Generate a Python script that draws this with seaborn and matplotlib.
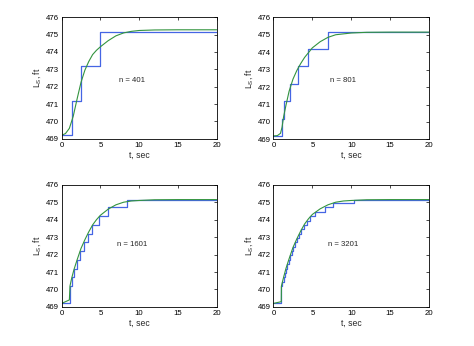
import numpy as np
import pandas as pd
import matplotlib
matplotlib.use("Agg")
import matplotlib.pyplot as plt
import seaborn as sns

# Grid sizes of the four runs
grid_sizes = [401, 801, 1601, 3201]

# Quantized (step) responses: switching times and the level held from each
step_t_401 = [0.0, 1.4, 2.45, 5.0]
step_L_401 = [469.2, 471.2, 473.2, 475.15]

step_t_801 = [0.0, 1.15, 1.3, 2.1, 3.15, 4.45, 6.95]
step_L_801 = [469.2, 470.2, 471.2, 472.2, 473.2, 474.2, 475.15]

step_t_1601 = [0.0, 1.03, 1.3, 1.6, 1.95, 2.35, 2.85, 3.4, 3.95, 4.8, 6.0, 8.45]
step_L_1601 = [469.2, 470.2, 470.7, 471.2, 471.7, 472.2, 472.7, 473.2, 473.7,
               474.2, 474.7, 475.15]

step_t_3201 = [0.0, 1.0, 1.15, 1.3, 1.45, 1.6, 1.78, 1.95, 2.15, 2.35, 2.57,
               2.8, 3.05, 3.3, 3.6, 3.95, 4.33, 4.75, 5.35, 6.6, 7.6, 10.3]
step_L_3201 = [469.2, 470.2, 470.45, 470.7, 470.95, 471.2, 471.45, 471.7,
               471.95, 472.2, 472.45, 472.7, 472.95, 473.2, 473.45, 473.7,
               473.95, 474.2, 474.45, 474.7, 474.95, 475.15]

# Continuous responses
cont_t_401 = [0, 0.5, 1.0, 1.5, 2.0, 2.5, 3.0, 3.5, 4.0, 4.5, 5.0, 6.0, 7.0,
              8.0, 9.0, 10, 12, 15, 20]
cont_L_401 = [469.2, 469.3, 469.6, 470.3, 471.3, 472.25, 472.95, 473.45,
              473.85, 474.1, 474.3, 474.65, 474.93, 475.1, 475.19, 475.24,
              475.27, 475.28, 475.28]

cont_t_801 = [0, 0.5, 0.9, 1.1, 1.3, 1.6, 2.0, 2.5, 3.0, 3.5, 4.0, 5.0, 6.0,
              7.0, 8.0, 10, 12, 15, 20]
cont_L_801 = [469.2, 469.22, 469.35, 469.7, 470.3, 470.95, 471.75, 472.45,
              472.95, 473.35, 473.7, 474.25, 474.6, 474.85, 475.0, 475.1,
              475.14, 475.15, 475.15]

cont_t_1601 = [0, 1.0, 1.08, 1.3, 1.6, 2.0, 2.5, 3.0, 3.5, 4.0, 4.5, 5.0,
               6.0, 7.0, 8.0, 9.0, 10, 12, 15, 20]
cont_L_1601 = [469.2, 469.4, 470.2, 470.65, 471.15, 471.7, 472.35, 472.85,
               473.3, 473.7, 474.0, 474.25, 474.6, 474.85, 475.0, 475.07,
               475.1, 475.14, 475.15, 475.15]

cont_t_3201 = [0, 1.0, 1.02, 1.3, 1.6, 2.0, 2.5, 3.0, 3.5, 4.0, 4.5, 5.0,
               6.0, 7.0, 8.0, 9.0, 10, 12, 15, 20]
cont_L_3201 = [469.2, 469.3, 470.2, 470.7, 471.2, 471.75, 472.4, 472.9,
               473.35, 473.75, 474.05, 474.3, 474.62, 474.85, 475.0, 475.07,
               475.1, 475.14, 475.15, 475.15]

T_END = 20.0

runs = [
    (step_t_401, step_L_401, cont_t_401, cont_L_401),
    (step_t_801, step_L_801, cont_t_801, cont_L_801),
    (step_t_1601, step_L_1601, cont_t_1601, cont_L_1601),
    (step_t_3201, step_L_3201, cont_t_3201, cont_L_3201),
]

# Label positions (t, L) for the "n = ..." annotations
label_pos = [(7.4, 472.38), (7.3, 472.4), (7.1, 472.55), (7.05, 472.55)]

sns.set_style("white")
plt.rcParams["font.family"] = ["Liberation Sans", "DejaVu Sans"]
plt.rcParams["mathtext.fontset"] = "custom"
plt.rcParams["mathtext.rm"] = "Liberation Sans"
plt.rcParams["mathtext.it"] = "Liberation Sans:italic"
plt.rcParams["mathtext.bf"] = "Liberation Sans:bold"

STEP_COLOR = "#4565e4"
CONT_COLOR = "#33943f"

fig = plt.figure(figsize=(4.74, 3.46), dpi=100)
positions = [
    [0.130, 0.599, 0.327, 0.351],
    [0.577, 0.597, 0.328, 0.353],
    [0.130, 0.113, 0.327, 0.353],
    [0.577, 0.113, 0.328, 0.353],
]

for pos, (st, sL, ct, cL), n, (lx, ly) in zip(positions, runs, grid_sizes, label_pos):
    ax = fig.add_axes(pos)
    steps = pd.DataFrame({"t": list(st) + [T_END], "L": list(sL) + [sL[-1]]})
    cont = pd.DataFrame({"t": ct, "L": cL})
    sns.lineplot(data=steps, x="t", y="L", ax=ax, color=STEP_COLOR,
                 linewidth=0.9, drawstyle="steps-post", estimator=None)
    sns.lineplot(data=cont, x="t", y="L", ax=ax, color=CONT_COLOR,
                 linewidth=0.8, estimator=None)
    ax.set_xlim(0, 20)
    ax.set_ylim(469, 476)
    ax.set_xticks([0, 5, 10, 15, 20])
    ax.set_yticks(range(469, 477))
    ax.tick_params(direction="in", length=2.5, width=0.5, labelsize=5.6,
                   top=True, right=True, pad=2, colors="black")
    for sp in ax.spines.values():
        sp.set_visible(True)
        sp.set_linewidth(0.6)
        sp.set_color("black")
    ax.set_xlabel("t, sec", fontsize=6.2, labelpad=1.5)
    ax.set_ylabel(r"L$_\mathrm{S}$, ft", fontsize=6.2, labelpad=2)
    ax.text(lx, ly, f"n = {n}", fontsize=5.6, va="center", ha="left")

fig.savefig("out.png", dpi=100, facecolor="white")
